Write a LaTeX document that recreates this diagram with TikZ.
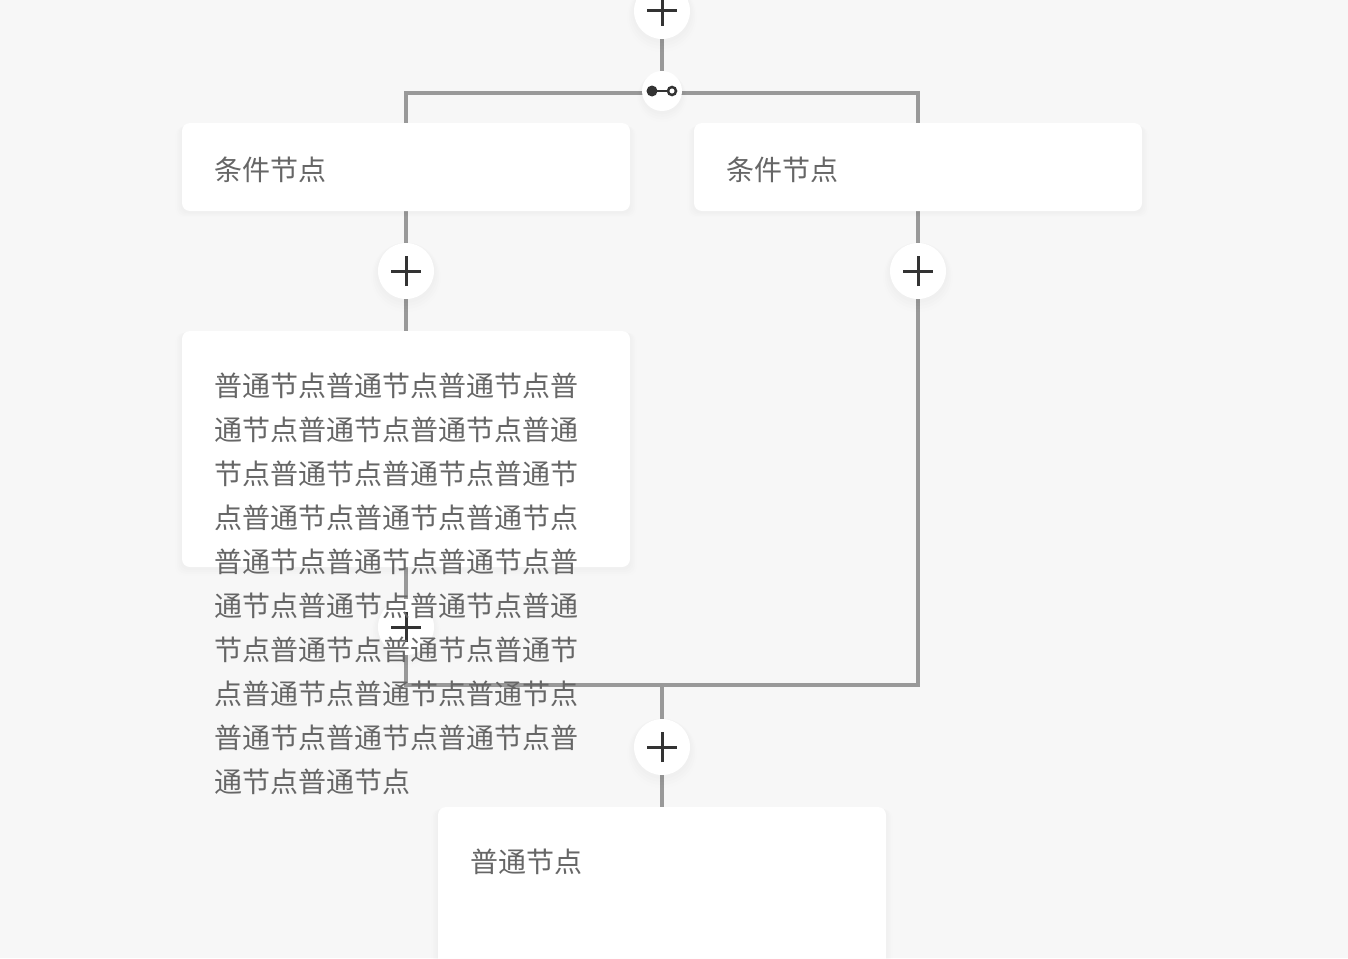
\documentclass[tikz,border=0pt]{standalone}
\usepackage{fontspec}
\newfontfamily\cjk{Noto Sans CJK SC}
\usetikzlibrary{shadows,backgrounds}
\definecolor{pagebg}{HTML}{F7F7F7}
\definecolor{linkgray}{HTML}{999999}
\definecolor{textgray}{HTML}{666666}
\definecolor{icondark}{HTML}{333333}
\tikzset{
  softshadow/.style={
    general shadow={fill=black,opacity=.005,shadow yshift=-5pt,shadow scale=#1},
    general shadow={fill=black,opacity=.006,shadow yshift=-4pt,shadow scale=1+(#1-1)*.75},
    general shadow={fill=black,opacity=.007,shadow yshift=-3pt,shadow scale=1+(#1-1)*.5},
    general shadow={fill=black,opacity=.008,shadow yshift=-2pt,shadow scale=1+(#1-1)*.25}},
  card/.style={fill=white,rounded corners=8pt,minimum width=448pt,inner sep=0pt,softshadow=1.03},
  cardtext/.style={font=\cjk\fontsize{28pt}{44pt}\selectfont,text=textgray,inner sep=0pt,align=left},
  link/.style={draw=linkgray,line width=4pt},
  addbtn/.style={circle,fill=white,minimum size=56pt,inner sep=0pt,softshadow=1.25,
    path picture={
      \draw[icondark,line width=3pt] ([xshift=-15pt]path picture bounding box.center) -- ([xshift=15pt]path picture bounding box.center);
      \draw[icondark,line width=3pt] ([yshift=-15pt]path picture bounding box.center) -- ([yshift=15pt]path picture bounding box.center);}},
  branchbtn/.style={circle,fill=white,minimum size=40pt,inner sep=0pt,softshadow=1.25,
    path picture={
      \draw[icondark,line width=2.5pt] ([xshift=-10pt]path picture bounding box.center) -- ([xshift=7pt]path picture bounding box.center);
      \fill[icondark] ([xshift=-10pt]path picture bounding box.center) circle (5.5pt);
      \draw[icondark,fill=white,line width=2.5pt] ([xshift=10pt]path picture bounding box.center) circle (4pt);}}
}
\begin{document}
\begin{tikzpicture}[x=1pt,y=-1pt]
  \useasboundingbox (0,0) rectangle (1348,958);
  \clip (0,0) rectangle (1348,958);
  \begin{pgfonlayer}{background}
    \fill[pagebg] (0,0) rectangle (1348,958);
  \end{pgfonlayer}
  \node[addbtn] (addtop) at (662,11) {};
  \node[branchbtn] (branch) at (662,91) {};
  \node[card,minimum height=88pt] (condl) at (406,167) {};
  \node[card,minimum height=88pt] (condr) at (918,167) {};
  \node[addbtn] (addl) at (406,271) {};
  \node[addbtn] (addr) at (918,271) {};
  \node[card,minimum height=236pt] (long) at (406,449) {};
  \node[addbtn] (addlong) at (406,627) {};
  \node[addbtn] (addend) at (662,747) {};
  \node[card,minimum height=200pt] (normal) at (662,907) {};
  \coordinate (split) at (662,93);
  \coordinate (merge) at (662,685);
  \begin{pgfonlayer}{background}
    \draw[link] (addtop) -- (branch);
    \draw[link] (condl.north) |- (split) -| (condr.north);
    \draw[link] (condl) -- (addl) -- (long);
    \draw[link] (condr) -- (addr);
    \draw[link] (long) -- (addlong);
    \draw[link] (addlong) |- (merge);
    \draw[link] (addr) |- (merge);
    \draw[link] (merge) -- (addend) -- (normal);
  \end{pgfonlayer}
  \node[cardtext,anchor=base west] (condltext) at (214,180) {条件节点};
  \node[cardtext,anchor=base west] (condrtext) at (726,180) {条件节点};
  \node[cardtext,anchor=north west] (longtext) at (214,373) {普通节点普通节点普通节点普\\
    通节点普通节点普通节点普通\\
    节点普通节点普通节点普通节\\
    点普通节点普通节点普通节点\\
    普通节点普通节点普通节点普\\
    通节点普通节点普通节点普通\\
    节点普通节点普通节点普通节\\
    点普通节点普通节点普通节点\\
    普通节点普通节点普通节点普\\
    通节点普通节点};
  \node[cardtext,anchor=base west] (normaltext) at (470,872) {普通节点};
\end{tikzpicture}
\end{document}
